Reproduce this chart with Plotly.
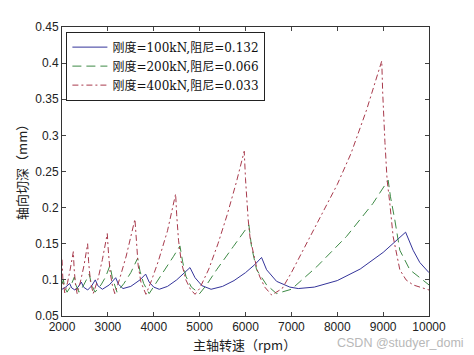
import plotly.graph_objects as go

# Series: stiffness 100kN, damping 0.132 (blue solid)
rpm_100 = [2000, 2080, 2167, 2210, 2280, 2350, 2421, 2470, 2560, 2650, 2726, 2780, 2880, 3030, 3170,
           3230, 3330, 3500, 3700, 3823, 3900, 4000, 4120, 4300, 4500, 4700, 4790, 4900, 5050, 5250,
           5500, 5750, 6000, 6200, 6350, 6460, 6677, 6967, 7150, 7500, 8000, 8500, 9000, 9490, 9654,
           9800, 10000]
ap_100 = [0.087, 0.090, 0.095, 0.089, 0.086, 0.090, 0.097, 0.090, 0.086, 0.092, 0.100, 0.092, 0.087, 0.093, 0.103,
          0.094, 0.088, 0.091, 0.100, 0.108, 0.097, 0.090, 0.087, 0.091, 0.100, 0.111, 0.117, 0.103, 0.092, 0.087,
          0.091, 0.099, 0.110, 0.121, 0.131, 0.114, 0.098, 0.090, 0.088, 0.090, 0.099, 0.115, 0.138, 0.166, 0.141,
          0.124, 0.110]

# Series: stiffness 200kN, damping 0.066 (green dashed)
rpm_200 = [2000, 2030, 2060, 2110, 2180, 2230, 2270, 2310, 2370, 2450, 2530, 2595, 2640, 2720, 2850, 2950,
           3046, 3100, 3200, 3350, 3500, 3649, 3700, 3780, 3900, 4000, 4136, 4425, 4571, 4630, 4700, 4820,
           5000, 5150, 5370, 5733, 5900, 6074, 6131, 6242, 6460, 6677, 7000, 7550, 8200, 8780, 9110, 9160,
           9255, 9364, 9582, 10000]
ap_200 = [0.094, 0.100, 0.090, 0.083, 0.090, 0.097, 0.104, 0.092, 0.083, 0.090, 0.099, 0.108, 0.094, 0.083, 0.093, 0.104,
          0.120, 0.102, 0.083, 0.095, 0.110, 0.130, 0.112, 0.095, 0.081, 0.090, 0.104, 0.132, 0.147, 0.125, 0.105, 0.090,
          0.081, 0.093, 0.114, 0.146, 0.160, 0.176, 0.146, 0.114, 0.093, 0.081, 0.087, 0.118, 0.160, 0.206, 0.238, 0.215,
          0.183, 0.141, 0.114, 0.093]

# Series: stiffness 400kN, damping 0.033 (red dash-dot)
rpm_400 = [2000, 2020, 2060, 2120, 2180, 2247, 2265, 2295, 2330, 2400, 2480, 2559, 2580, 2620, 2680, 2780,
           2880, 2987, 3010, 3050, 3100, 3150, 3250, 3400, 3590, 3620, 3660, 3720, 3830, 3950, 4100, 4300,
           4477, 4500, 4540, 4600, 4700, 4800, 4900, 5000, 5200, 5400, 5600, 5800, 5972, 6000, 6030, 6059,
           6100, 6168, 6250, 6314, 6420, 6570, 6800, 7000, 7331, 7600, 8000, 8300, 8638, 8970, 8990, 9040,
           9087, 9146, 9218, 9364, 9500, 9654, 10000]
ap_400 = [0.128, 0.100, 0.082, 0.096, 0.115, 0.139, 0.115, 0.093, 0.081, 0.097, 0.120, 0.150, 0.125, 0.098, 0.081, 0.100,
          0.128, 0.164, 0.140, 0.110, 0.092, 0.081, 0.100, 0.133, 0.184, 0.150, 0.120, 0.097, 0.080, 0.099, 0.126, 0.168,
          0.219, 0.190, 0.155, 0.125, 0.100, 0.087, 0.080, 0.088, 0.115, 0.150, 0.190, 0.235, 0.278, 0.240, 0.210, 0.183,
          0.158, 0.137, 0.115, 0.104, 0.090, 0.079, 0.088, 0.110, 0.150, 0.183, 0.232, 0.275, 0.335, 0.403, 0.360, 0.290,
          0.238, 0.206, 0.160, 0.114, 0.100, 0.093, 0.086]

names = ["刚度=100kN,阻尼=0.132", "刚度=200kN,阻尼=0.066", "刚度=400kN,阻尼=0.033"]
x_ticks = [2000, 3000, 4000, 5000, 6000, 7000, 8000, 9000, 10000]
x_tick_labels = ["2000", "3000", "4000", "5000", "6000", "7000", "8000", "9000", "10000"]
y_ticks = [0.05, 0.1, 0.15, 0.2, 0.25, 0.3, 0.35, 0.4, 0.45]
y_tick_labels = ["0.05", "0.1", "0.15", "0.2", "0.25", "0.3", "0.35", "0.4", "0.45"]
x_title = "主轴转速（rpm）"
y_title = "轴向切深（mm）"

fig = go.Figure()
fig.add_trace(go.Scatter(x=rpm_100, y=ap_100, mode="lines", name=names[0],
                         line=dict(color="#34349a", width=1, dash="solid")))
fig.add_trace(go.Scatter(x=rpm_200, y=ap_200, mode="lines", name=names[1],
                         line=dict(color="#3d8a45", width=1, dash="9px,5px")))
fig.add_trace(go.Scatter(x=rpm_400, y=ap_400, mode="lines", name=names[2],
                         line=dict(color="#a83a4c", width=1, dash="6px,3px,2px,3px")))

axis_font = dict(family="Liberation Sans, Arial, sans-serif", size=12, color="#222")
title_font = dict(family="Noto Sans CJK SC, serif", size=13, color="#222")
fig.update_layout(
    width=474, height=355,
    margin=dict(l=62, r=45, t=27, b=39),
    paper_bgcolor="white", plot_bgcolor="white",
    showlegend=True,
    legend=dict(x=0.012, y=0.984, xanchor="left", yanchor="top",
                bgcolor="white", bordercolor="#222", borderwidth=1,
                font=dict(family="DejaVu Serif, Noto Sans CJK SC, serif", size=12, color="#111"),
                tracegroupgap=0, itemwidth=35),
    xaxis=dict(range=[2000, 10000], tickvals=x_ticks, ticktext=x_tick_labels, ticks="inside", ticklen=4,
               showline=True, linecolor="#333", linewidth=1, mirror="allticks", automargin=False,
               showgrid=False, zeroline=False, tickfont=axis_font),
    yaxis=dict(range=[0.05, 0.45], tickvals=y_ticks, ticktext=y_tick_labels, ticks="inside", ticklen=4,
               showline=True, linecolor="#333", linewidth=1, mirror="allticks", automargin=False,
               showgrid=False, zeroline=False, tickfont=axis_font),
    annotations=[
        dict(text=x_title, xref="paper", yref="paper", x=0.496, y=-0.098,
             xanchor="center", yanchor="middle", showarrow=False, font=title_font),
        dict(text=y_title, xref="paper", yref="paper", x=-0.109, y=0.509, textangle=-90,
             xanchor="center", yanchor="middle", showarrow=False, font=title_font),
        dict(text="CSDN @studyer_domi", xref="paper", yref="paper", x=1.1, y=-0.092,
             xanchor="right", yanchor="middle", showarrow=False,
             font=dict(family="Liberation Sans, Arial, sans-serif", size=12.5, color="#b8b8b8")),
    ],
)

fig.write_html("out.html", config={"displayModeBar": False},
               post_script="document.body.style.margin='0';document.body.style.padding='0';")
